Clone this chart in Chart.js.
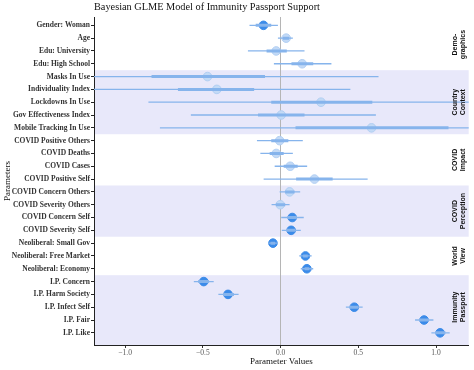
<!DOCTYPE html>
<html>
<head>
<meta charset="utf-8">
<script src="https://cdn.jsdelivr.net/npm/chart.js@4/dist/chart.umd.min.js"></script>
<style>
  html, body { margin: 0; padding: 0; background: #fff; }
</style>
</head>
<body>
<canvas id="myChart" width="474" height="370"></canvas>
<script>
const labels = [
  "Gender: Woman", "Age", "Edu: University", "Edu: High School",
  "Masks In Use", "Individuality Index", "Lockdowns In Use", "Gov Effectiveness Index", "Mobile Tracking In Use",
  "COVID Positive Others", "COVID Deaths", "COVID Cases", "COVID Positive Self",
  "COVID Concern Others", "COVID Severity Others", "COVID Concern Self", "COVID Severity Self",
  "Neoliberal: Small Gov", "Neoliberal: Free Market", "Neoliberal: Economy",
  "I.P. Concern", "I.P. Harm Society", "I.P. Infect Self", "I.P. Fair", "I.P. Like"
];
const estimate = [-0.11, 0.036, -0.028, 0.139, -0.47, -0.41, 0.26, 0.004, 0.585,
  -0.006, -0.028, 0.062, 0.218, 0.058, -0.002, 0.075, 0.068, -0.049, 0.16, 0.169,
  -0.494, -0.338, 0.474, 0.923, 1.026];
const lower95 = [-0.20, -0.017, -0.21, -0.043, -1.35, -1.25, -0.85, -0.577, -0.776,
  -0.152, -0.13, -0.038, -0.109, -0.006, -0.058, 0.004, 0.008, -0.08, 0.12, 0.13,
  -0.558, -0.40, 0.42, 0.865, 0.97];
const upper95 = [-0.017, 0.079, 0.154, 0.327, 0.63, 0.449, 1.35, 0.613, 1.6,
  0.143, 0.079, 0.171, 0.56, 0.126, 0.058, 0.149, 0.13, -0.017, 0.20, 0.21,
  -0.43, -0.27, 0.528, 0.983, 1.088];
const lower80 = [-0.16, 0.015, -0.09, 0.07, -0.83, -0.66, -0.06, -0.145, 0.096,
  -0.06, -0.07, 0.02, 0.10, 0.03, -0.03, 0.045, 0.04, -0.065, 0.145, 0.155,
  -0.53, -0.37, 0.445, 0.89, 0.995];
const upper80 = [-0.06, 0.055, 0.04, 0.21, -0.10, -0.17, 0.59, 0.154, 1.08,
  0.05, 0.02, 0.11, 0.335, 0.09, 0.03, 0.105, 0.095, -0.035, 0.175, 0.185,
  -0.46, -0.30, 0.50, 0.955, 1.06];
const credible = [true, false, false, false, false, false, false, false, false,
  false, false, false, false, false, false, true, true, true, true, true,
  true, true, true, true, true];

const groupNames = [["Demo-", "graphics"], ["Country", "Context"], ["COVID", "Impact"],
  ["COVID", "Perception"], ["World", "View"], ["Immunity", "Passport"]];
const groupSizes = [4, 5, 4, 4, 3, 5];
const groupShaded = [false, true, false, true, false, true];

const xTicks = [-1, -0.5, 0, 0.5, 1];

const serif = "'Liberation Serif', 'DejaVu Serif', serif";
const sans = "'Liberation Sans', Arial, sans-serif";
const lineColor = "#86b4ec";
const darkBlue = "#3b8be9";
const lightBlue = "#c3daf6";

function segments(lo, hi) {
  const pts = [];
  lo.forEach((v, i) => {
    pts.push({ x: v, y: i }, { x: hi[i], y: i }, { x: 0, y: null });
  });
  return pts;
}

const bandsPlugin = {
  id: "bands",
  beforeDraw(chart) {
    const { ctx, chartArea, scales } = chart;
    const y = scales.y;
    let start = 0;
    ctx.save();
    groupSizes.forEach((n, g) => {
      const end = start + n - 1;
      if (groupShaded[g]) {
        let top = g === 0 ? chartArea.top : y.getPixelForValue(start - 0.5);
        let bot = g === groupSizes.length - 1 ? chartArea.bottom : y.getPixelForValue(end + 0.5);
        ctx.fillStyle = "rgb(232,232,250)";
        ctx.fillRect(chartArea.left, top, chartArea.right - chartArea.left, bot - top);
      }
      start += n;
    });
    ctx.restore();
  },
  afterDatasetsDraw(chart) {
    const { ctx, chartArea, scales } = chart;
    const y = scales.y;
    let start = 0;
    ctx.save();
    ctx.fillStyle = "#111";
    ctx.font = "bold 7px " + sans;
    ctx.textAlign = "center";
    ctx.textBaseline = "middle";
    groupSizes.forEach((n, g) => {
      const mid = y.getPixelForValue(start + (n - 1) / 2);
      ctx.save();
      ctx.translate(chartArea.right - 10, mid);
      ctx.rotate(-Math.PI / 2);
      ctx.fillText(groupNames[g][0], 0, -4);
      ctx.fillText(groupNames[g][1], 0, 4);
      ctx.restore();
      start += n;
    });
    // title
    ctx.font = "10.3px " + serif;
    ctx.fillStyle = "#111";
    ctx.textAlign = "left";
    ctx.fillText("Bayesian GLME Model of Immunity Passport Support", 94, 7.5);
    ctx.restore();
  }
};

new Chart("myChart", {
  type: "line",
  data: {
    datasets: [
      {
        data: segments(lower95, upper95),
        borderColor: lineColor,
        borderWidth: 1.3,
        pointRadius: 0,
        spanGaps: false,
      },
      {
        data: segments(lower80, upper80),
        borderColor: lineColor,
        borderWidth: 3,
        pointRadius: 0,
        spanGaps: false,
      },
      {
        type: "scatter",
        data: estimate.map((v, i) => ({ x: v, y: i })),
        pointRadius: 4.3,
        pointBackgroundColor: credible.map(c => (c ? darkBlue : lightBlue)),
        pointBorderColor: credible.map(c => (c ? darkBlue : "#b2cff3")),
        pointBorderWidth: 1,
      },
    ],
  },
  options: {
    responsive: false,
    animation: false,
    layout: { padding: { top: 17, right: 4, left: 0, bottom: 0 } },
    plugins: {
      legend: { display: false },
      tooltip: { enabled: false },
    },
    scales: {
      x: {
        type: "linear",
        min: -1.2,
        max: 1.21,
        afterBuildTicks: s => { s.ticks = xTicks.map(v => ({ value: v })); },
        afterFit: s => { s.height = 25; },
        ticks: {
          font: { family: serif, size: 7.5 },
          color: "#555",
          padding: 1,
          callback: v => (v < 0 ? "\u2212" : "") + Math.abs(v).toFixed(1),
        },
        grid: {
          color: ctx => (ctx.tick && ctx.tick.value === 0 ? "#b5b5b5" : "rgba(0,0,0,0)"),
          lineWidth: 1,
          tickLength: 3,
          tickColor: "#333",
        },
        border: { color: "#222", width: 1 },
        title: {
          display: true,
          text: "Parameter Values",
          font: { family: serif, size: 9 },
          color: "#111",
          padding: { top: 0, bottom: 3 },
        },
      },
      y: {
        type: "linear",
        reverse: true,
        min: -0.65,
        max: 24.95,
        afterBuildTicks: s => { s.ticks = labels.map((_, i) => ({ value: i })); },
        afterFit: s => { s.width = 94; },
        ticks: {
          font: { family: serif, size: 7.5, weight: "bold" },
          color: "#333",
          padding: 1,
          autoSkip: false,
          callback: v => labels[v],
        },
        grid: {
          drawOnChartArea: false,
          tickLength: 3,
          tickColor: "#222",
        },
        border: { color: "#222", width: 1 },
        title: {
          display: true,
          text: "Parameters",
          font: { family: serif, size: 9 },
          color: "#111",
          padding: { top: 2, bottom: 0 },
        },
      },
    },
  },
  plugins: [bandsPlugin],
});
</script>
</body>
</html>
